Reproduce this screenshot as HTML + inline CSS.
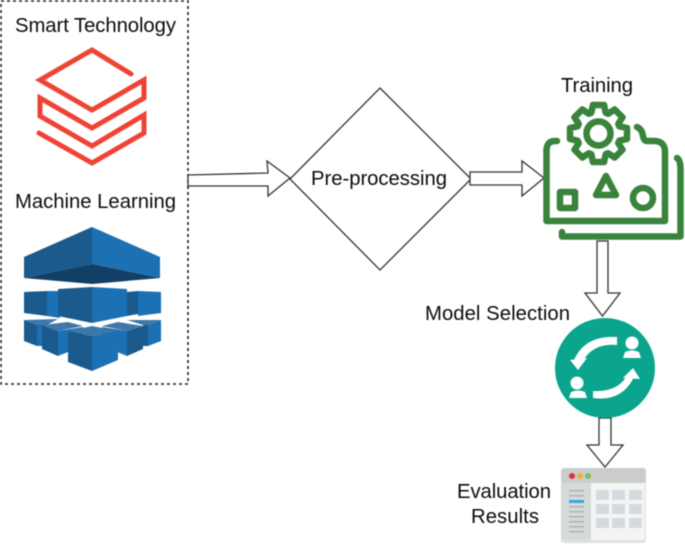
<!DOCTYPE html>
<html><head><meta charset="utf-8"><style>
html,body{margin:0;padding:0;background:#fff;width:685px;height:545px;overflow:hidden}
svg{display:block;filter:blur(.45px)}
text{font-family:"Liberation Sans",sans-serif;font-size:20.3px;fill:#0c0c0c}
</style></head><body>
<svg width="685" height="545" viewBox="0 0 685 545" xmlns="http://www.w3.org/2000/svg">
<rect x="1" y="1" width="187" height="383" fill="none" stroke="#222" stroke-width="1.6" stroke-dasharray="3 3"/>
<text x="15" y="32" textLength="161">Smart Technology</text>
<text x="15" y="208" textLength="161">Machine Learning</text>
<polyline points="131,74 92,50 40,80 92,110 144,80 144,98 92,128 40,98 40,116 92,146 144,115 144,133 92,163 39,133" fill="none" stroke="#ef4335" stroke-width="5" stroke-linecap="round" stroke-linejoin="miter"/>
<!-- blue stack -->
<polygon points="92,227 24,257 24,278 92,264" fill="#1a5a8c"/>
<polygon points="92,227 160,257 160,278 92,264" fill="#1c70b4"/>
<polygon points="24,278 92,264 160,278 92,284" fill="#123f66"/>
<polygon points="24,292 47,291 47,316 24,313" fill="#1a5a8c"/>
<polygon points="47,291 60,291 60,318 47,316" fill="#1c70b4"/>
<polygon points="127,292 138,291 138,314 127,316" fill="#1a5a8c"/>
<polygon points="138,291 161,292 161,313 138,316" fill="#1c70b4"/>
<polygon points="58,289 92,287 92,323 58,316" fill="#1a5a8c"/>
<polygon points="92,287 127,289 127,316 92,323" fill="#1c70b4"/>
<polygon points="24,320 58,319 45,326 37,325" fill="#3e78a9"/>
<polygon points="24,320 37,325 37,346 24,341" fill="#1a5a8c"/>
<polygon points="37,325 45,325 45,346 37,346" fill="#1c70b4"/>
<polygon points="42,325 68,322 83,326 58,331" fill="#3e78a9"/>
<polygon points="42,325 58,331 58,356 42,349" fill="#1a5a8c"/>
<polygon points="58,331 83,327 83,346 58,356" fill="#1c70b4"/>
<polygon points="102,326 118,322 143,326 127,331" fill="#3e78a9"/>
<polygon points="102,327 127,331 127,356 102,346" fill="#1c70b4"/>
<polygon points="127,331 143,326 143,349 127,356" fill="#1a5a8c"/>
<polygon points="127,320 161,320 148,325 143,325" fill="#3e78a9"/>
<polygon points="143,325 149,325 149,346 143,346" fill="#1a5a8c"/>
<polygon points="148,325 161,320 161,341 148,346" fill="#1c70b4"/>
<polygon points="68,331 92,326 118,331 92,336" fill="#3e78a9"/>
<polygon points="68,331 92,336 92,371 68,362" fill="#1a5a8c"/>
<polygon points="92,336 118,331 118,360 92,371" fill="#1c70b4"/>
<!-- diamond -->
<polygon points="380,88 471,179 380,270 290,179" fill="none" stroke="#333" stroke-width="1.3"/>
<text x="311" y="185" textLength="136">Pre-processing</text>
<!-- arrows -->
<polygon points="188,175 268,173 267,161 290,178 268,196 268,186 188,186" fill="#fff" stroke="#333" stroke-width="1.3"/>
<polygon points="470,172 522,172 522,161 544,178 522,196 522,185 470,185" fill="#fff" stroke="#333" stroke-width="1.3"/>
<polygon points="597,241 608,241 608,293 620,293 602.5,316 585,293 597,293" fill="#fff" stroke="#333" stroke-width="1.3"/>
<polygon points="599,418 611,418 611,445 623,445 605,467 587,445 599,445" fill="#fff" stroke="#333" stroke-width="1.3"/>
<!-- training -->
<text x="561" y="92" textLength="72">Training</text>
<g fill="none" stroke="#3a833c" stroke-width="6.5" stroke-linejoin="round" stroke-linecap="round">
<path d="M557,141 H555 Q546.500,141 546.500,151 V221 H665 V152 Q665,141 654,141 H647 Q644,141 643,136 Q642,129 637,127"/>
<path d="M562,232 V236.500 H680.500 V170 Q680.500,160 677,158"/>
<rect x="560" y="192" width="15" height="16"/>
<polygon points="606,176 596,195 616,195"/>
<circle cx="643" cy="198" r="10"/>
<circle cx="598.500" cy="133.500" r="12"/>
<path transform="translate(598.500,133.500)" d="M-5.500,-28.500 L5.500,-28.500 L7.200,-20.800 L9.600,-19.800 L16.200,-24 L24,-16.200 L19.800,-9.600 L20.800,-7.200 L28.500,-5.500 L28.500,5.500 L20.800,7.200 L19.800,9.600 L24,16.200 L16.200,24 L9.600,19.800 L7.200,20.800 L5.500,28.500 L-5.500,28.500 L-7.200,20.800 L-9.600,19.800 L-16.200,24 L-24,16.200 L-19.800,9.600 L-20.800,7.200 L-28.500,5.500 L-28.500,-5.500 L-20.800,-7.200 L-19.800,-9.600 L-24,-16.200 L-16.200,-24 L-9.600,-19.800 L-7.200,-20.800 Z"/>
</g>
<!-- model -->
<text x="425" y="320" textLength="145">Model Selection</text>
<circle cx="605" cy="368" r="50" fill="#0ba48d"/>
<g fill="#fff">
<circle cx="632" cy="343" r="6.500"/>
<path d="M623,358 L625,352 Q632,349 639,352 L641,358 Z"/>
<circle cx="577" cy="383" r="6.500"/>
<path d="M569,398 L571,392 Q578,389 585,392 L587,398 Z"/>
<polygon points="570,360 587,358 578,370"/>
<path d="M617,337 Q585,335 574,360 L584,359 Q595,343 617,345 Z"/>
<polygon points="623,378 640,379 633,368"/>
<path d="M593,398 Q622,402 634,377 L626,377 Q617,392 593,391 Z"/>
</g>
<!-- evaluation -->
<text x="457" y="498" textLength="94">Evaluation</text>
<text x="471" y="523" textLength="68">Results</text>
<rect x="561" y="468" width="85" height="75" rx="3" fill="#dfe1e1"/>
<rect x="561" y="468" width="85" height="15" rx="3" fill="#cbcdcb"/>
<rect x="561" y="483" width="30" height="57" fill="#d5dadb"/>
<rect x="591" y="483" width="54" height="57" fill="#f3f5f5"/>
<circle cx="572" cy="476" r="3" fill="#d8343c"/>
<circle cx="580" cy="476" r="3" fill="#e9b23a"/>
<circle cx="588" cy="476" r="3" fill="#7fbc5f"/>
<g fill="#aeb4b4">
<rect x="569" y="490" width="15" height="1.500"/><rect x="569" y="495" width="15" height="1.500"/>
<rect x="569" y="506" width="15" height="1.500"/><rect x="569" y="511" width="15" height="1.500"/><rect x="569" y="516" width="15" height="1.500"/><rect x="569" y="521" width="15" height="1.500"/><rect x="569" y="526" width="15" height="1.500"/><rect x="569" y="531" width="15" height="1.500"/>
</g>
<rect x="569" y="500" width="15" height="3" fill="#36a9d6"/>
<g fill="#d3dbde">
<rect x="596" y="490" width="13" height="10"/><rect x="612" y="490" width="13" height="10"/><rect x="629" y="490" width="13" height="10"/>
<rect x="596" y="504" width="13" height="10"/><rect x="612" y="504" width="13" height="10"/><rect x="629" y="504" width="13" height="10"/>
<rect x="596" y="518" width="13" height="10"/><rect x="612" y="518" width="13" height="10"/><rect x="629" y="518" width="13" height="10"/>
</g>
</svg>
</body></html>
